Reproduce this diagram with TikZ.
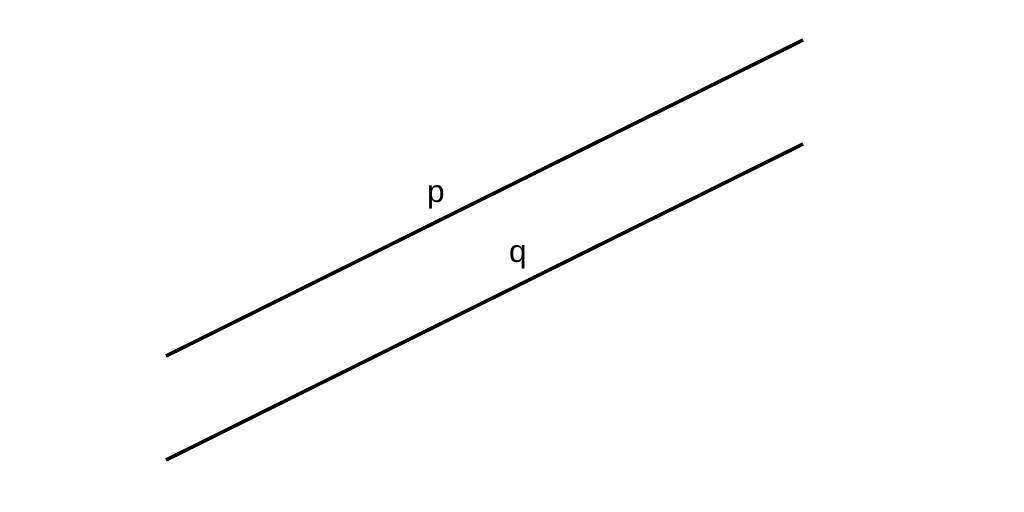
\documentclass[tikz,border=0pt]{standalone}
\usepackage{fontspec}
\setmainfont{Liberation Sans}
\usepackage{tikz}

\begin{document}
\begin{tikzpicture}
[x=0.02cm,y=-0.02cm]
\tikzset{
	parline/.style = {line width = 2pt, black},
	linelabel/.style = {font = \fontsize{18}{20}\selectfont, inner sep = 0}
}
\useasboundingbox (0,0) rectangle (1024,511);

\coordinate (p1) at (166,356);
\coordinate (p2) at (803,40);
\coordinate (q1) at (166,460);
\coordinate (q2) at (803,144);

\draw [parline] (p1) -- (p2);
\draw [parline] (q1) -- (q2);

\node(p) [linelabel] at (436,197) {p};
\node(q) [linelabel] at (518,257) {q};
\end{tikzpicture}
\end{document}
